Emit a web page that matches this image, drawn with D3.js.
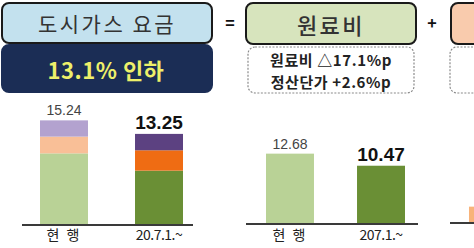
<!DOCTYPE html>
<html>
<head>
<meta charset="utf-8">
<script src="https://cdn.jsdelivr.net/npm/d3@7"></script>
<style>
  body { margin: 0; background: #fff; }
  svg { display: block; }
  text { font-family: "Noto Sans CJK KR", "Noto Sans", sans-serif; }
</style>
</head>
<body>
<svg id="chart" width="474" height="248"></svg>
<script>
// periods on the x axis
var periods = ["현 행", "20.7.1.~"];
var periods2 = ["현 행", "207.1.~"];

// total city gas price (원/MJ)
var totalPrice = [15.24, 13.25];
// stacked parts of the total
var partRaw = [10.39, 7.85];      // 원료비 part
var partSupply = [2.46, 2.99];    // 공급비 part
var partOther = [2.39, 2.41];     // 기타 part

// raw material cost panel
var rawCost = [12.68, 10.47];
// supply cost panel (only the edge is visible)
var supplyCost = [2.56, 2.78];

var colorsOld = ["#b9d296", "#f9bf97", "#b3a2cf"];
var colorsNew = ["#6a8f35", "#ef6c13", "#5c4181"];

var svg = d3.select("#chart");

// ---- header boxes ----
function box(x, y, w, h, fill, stroke, dash) {
    svg.append("rect")
        .attr("x", x).attr("y", y)
        .attr("width", w).attr("height", h)
        .attr("rx", 7).attr("ry", 7)
        .attr("fill", fill)
        .attr("stroke", stroke)
        .attr("stroke-width", dash ? 1.2 : 2)
        .attr("stroke-dasharray", dash ? "2,1.5" : null);
}

function label(x, y, txt, size, weight, fill, spacing) {
    return svg.append("text")
        .attr("x", x).attr("y", y)
        .attr("text-anchor", "middle")
        .attr("dominant-baseline", "central")
        .style("font-size", size + "px")
        .style("font-weight", weight)
        .style("letter-spacing", (spacing || 0) + "px")
        .attr("fill", fill)
        .text(txt);
}

box(2, 3, 210, 40, "#c3e1ee", "#1a1a1a");
label(107, 23, "도시가스 요금", 21, 400, "#333", 2.5);
box(2, 45, 210, 47, "#1b2d55", "#1b2d55");
label(106, 69, "13.1% 인하", 22, 700, "#eef06a", 0.5);

label(230, 22, "=", 16, 700, "#111");
box(246, 3, 170, 41, "#d7e4bd", "#1a1a1a");
label(331, 24, "원료비", 22, 500, "#333", 2.5);
box(248, 47, 166, 46, "#fff", "#8a8a8a", true);
label(331, 59, "원료비 △17.1%p", 15, 600, "#222", 0.6);
label(331, 81, "정산단가 +2.6%p", 15, 600, "#222", 0.6);

label(432, 22, "+", 16, 700, "#111");
box(451, 3, 60, 41, "#f9cbad", "#1a1a1a");
box(450, 47, 60, 46, "#fff", "#8a8a8a", true);

// ---- bar panels ----
function panel(cfg) {
    var x = d3.scaleBand()
        .domain(cfg.cats)
        .range(cfg.xRange)
        .paddingInner(cfg.pad)
        .paddingOuter(0.2);
    var y = d3.scaleLinear()
        .domain([0, 16])
        .range([cfg.base, cfg.base - cfg.k * 16]);

    var g = svg.append("g");

    cfg.stacks.forEach(function(parts, i) {
        var acc = 0;
        parts.forEach(function(v, j) {
            g.append("rect")
                .attr("x", x(cfg.cats[i]))
                .attr("width", x.bandwidth())
                .attr("y", y(acc + v))
                .attr("height", y(acc) - y(acc + v))
                .attr("fill", cfg.colors[i][j]);
            acc += v;
        });
    });

    if (cfg.totals) {
        cfg.totals.forEach(function(v, i) {
            g.append("text")
                .attr("x", x(cfg.cats[i]) + x.bandwidth() / 2)
                .attr("y", y(v) - 5)
                .attr("text-anchor", "middle")
                .style("font-family", "Arial, 'Liberation Sans', sans-serif")
                .style("font-size", i == 0 ? "14px" : "19px")
                .style("font-weight", i == 0 ? 400 : 700)
                .attr("fill", i == 0 ? "#444" : "#111")
                .text(v.toFixed(2));
        });
    }

    g.append("line")
        .attr("x1", cfg.axis[0]).attr("x2", cfg.axis[1])
        .attr("y1", cfg.base + 1).attr("y2", cfg.base + 1)
        .attr("stroke", "#3a3a3a")
        .attr("stroke-width", 2);

    cfg.tickText.forEach(function(t, i) {
        g.append("text")
            .attr("x", x(cfg.cats[i]) + x.bandwidth() / 2)
            .attr("y", 240)
            .attr("text-anchor", "middle")
            .style("font-size", "14px")
            .style("letter-spacing", i == 0 ? "2px" : "-0.5px")
            .attr("fill", "#222")
            .text(t);
    });
}

panel({
    cats: periods,
    tickText: periods,
    stacks: [[partRaw[0], partSupply[0], partOther[0]], [partRaw[1], partSupply[1], partOther[1]]],
    colors: [colorsOld, colorsNew],
    totals: totalPrice,
    xRange: [21, 202], pad: 0.495,
    base: 224, k: 6.8,
    axis: [22, 193]
});

panel({
    cats: periods2,
    tickText: periods2,
    stacks: [[rawCost[0]], [rawCost[1]]],
    colors: [[colorsOld[0]], [colorsNew[0]]],
    totals: rawCost,
    xRange: [247.8, 423.2], pad: 0.473,
    base: 223, k: 5.47,
    axis: [246, 418]
});

panel({
    cats: ["a", "b"],
    tickText: [],
    stacks: [[supplyCost[0]], [supplyCost[1]]],
    colors: [["#f8b37a"], ["#ef6c13"]],
    totals: null,
    xRange: [450.8, 626], pad: 0.473,
    base: 222, k: 6.0,
    axis: [450, 620]
});
</script>
</body>
</html>
